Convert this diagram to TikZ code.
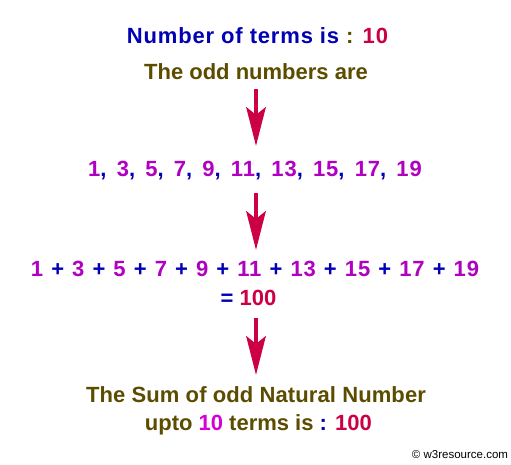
\documentclass[tikz,border=0pt]{standalone}
\usepackage{fontspec}
\setmainfont{Liberation Sans}
\usetikzlibrary{arrows.meta, positioning}

\definecolor{termblue}{RGB}{0,0,180}
\definecolor{textolive}{RGB}{92,76,0}
\definecolor{crimson}{RGB}{204,0,68}
\definecolor{oddpurple}{RGB}{176,0,192}
\definecolor{tenmagenta}{RGB}{214,0,214}

\newcommand{\odd}[1]{\textcolor{oddpurple}{#1}}
\newcommand{\bl}[1]{\textcolor{termblue}{#1}}

\begin{document}
\begin{tikzpicture}[x=1pt, y=1pt]
        \tikzstyle{line}=[font=\fontsize{22}{26}\selectfont\bfseries, inner sep=0pt, anchor=base, text height=16pt, text depth=0pt];
        \tikzstyle{flow}=[-{Stealth[length=39pt, width=20pt, inset=8pt, line width=0pt]}, line width=4pt, crimson];

        \useasboundingbox (0, 0) rectangle (511, -464);
        \coordinate (axis) at (256, 0);

        \node[line, text=termblue] (terms) at (257.5, -43.3) {\addfontfeature{LetterSpace=3.8}Number of terms is \textcolor{textolive}{:} \textcolor{crimson}{10}};
        \node[line, text=textolive] (oddtitle) at (256, -79) {The odd numbers are};

        \node[line] (list) at (255, -176.7) {\addfontfeature{LetterSpace=4}\spaceskip=10.2pt\odd{1}\bl{,} \odd{3}\bl{,} \odd{5}\bl{,} \odd{7}\bl{,} \odd{9}\bl{,} \odd{11}\bl{,} \odd{13}\bl{,} \odd{15}\bl{,} \odd{17}\bl{,} \odd{19}};

        \node[line] (sum) at (255, -276.7) {\addfontfeature{LetterSpace=4}\spaceskip=8.1pt\odd{1} \bl{+} \odd{3} \bl{+} \odd{5} \bl{+} \odd{7} \bl{+} \odd{9} \bl{+} \odd{11} \bl{+} \odd{13} \bl{+} \odd{15} \bl{+} \odd{17} \bl{+} \odd{19}};
        \node[line] (equals) at (248.5, -305) {\bl{=} \textcolor{crimson}{100}};

        \node[line, text=textolive] (result) at (256, -402.3) {\addfontfeature{LetterSpace=0.5}The Sum of odd Natural Number};
        \node[line, text=textolive] (upto) at (258.4, -430.5) {upto \textcolor{tenmagenta}{10} terms is \bl{:} \textcolor{crimson}{100}};

        \node[anchor=base, inner sep=0pt, font=\fontsize{11.5}{13}\selectfont] (credit) at (460, -458.3) {\textcopyright\ w3resource.com};

        \draw[flow, shorten <=10pt, shorten >=14.7pt] (oddtitle.south -| axis) -- (list.north -| axis);
        \draw[flow, shorten <=16.3pt, shorten >=10.7pt] (list.south -| axis) -- (sum.north -| axis);
        \draw[flow, shorten <=13pt, shorten >=11.3pt] (equals.south -| axis) -- (result.north -| axis);
\end{tikzpicture}
\end{document}
